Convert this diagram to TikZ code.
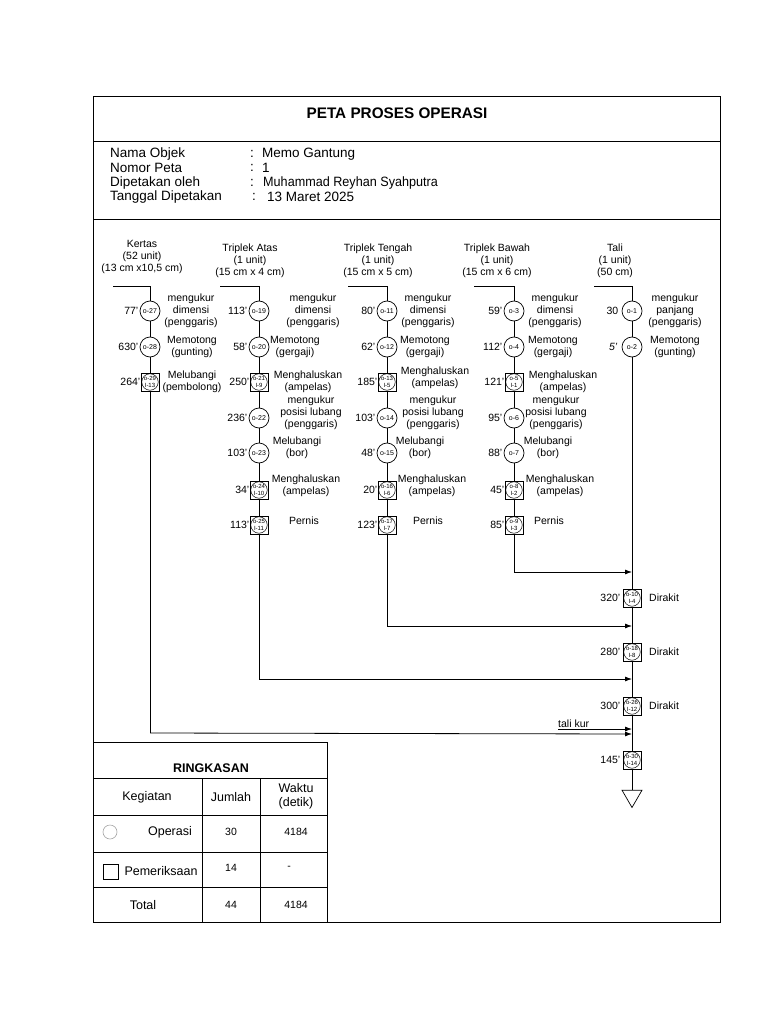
\documentclass[tikz,border=0pt]{standalone}
\usepackage{fontspec}
\setmainfont{Liberation Sans}
\newfontfamily\narrowfont[FakeStretch=0.935]{Liberation Sans}
\usetikzlibrary{arrows.meta,shapes.geometric}
\begin{document}
\begin{tikzpicture}[x=1pt,y=-1pt,
  frame/.style={line width=0.9pt},
  flow/.style={line width=0.8pt},
  arr/.style={flow,-{Latex[length=7pt,width=5pt]}},
  op/.style={circle,draw,line width=0.7pt,minimum size=20pt,inner sep=0pt,font=\fontsize{7}{7}\selectfont},
  comb/.style={rectangle,draw,line width=0.8pt,minimum size=18pt,inner sep=0pt},
  combc/.style={circle,draw,line width=0.5pt,minimum size=16.5pt,inner sep=0pt,align=center,font=\fontsize{6}{6.3}\selectfont},
  tm/.style={anchor=east,inner sep=0.5pt,font=\fontsize{10.5}{12}\selectfont},
  lbl/.style={align=center,inner sep=0pt,font=\fontsize{10.5}{12.2}\selectfont},
  hdr/.style={align=center,inner sep=0pt,font=\fontsize{10.5}{12}\selectfont},
  info/.style={anchor=west,inner sep=0pt,font=\fontsize{13.5}{15}\selectfont},
  tbl/.style={inner sep=0pt,align=center,font=\fontsize{12.5}{14}\selectfont},
  num/.style={inner sep=0pt,font=\fontsize{10.5}{12}\selectfont}
]
\useasboundingbox (0,0) rectangle (768,1024);
\fill[white] (0,0) rectangle (768,1024);

% frame
\draw[frame] (93,96) rectangle (720,922);
\draw[frame] (93,141) -- (720,141);
\draw[frame] (93,219) -- (720,219);
\node[font=\bfseries\fontsize{15.3}{17}\selectfont] (title) at (397,113) {PETA PROSES OPERASI};

% info
\node[info] (i1) at (110,154) {Nama Objek};
\node[info] (i2) at (110,168) {Nomor Peta};
\node[info] (i3) at (110,183) {Dipetakan oleh};
\node[info] (i4) at (110,197) {Tanggal Dipetakan};
\node[info] (c1) at (250,154) {:};
\node[info] (c2) at (250,168) {:};
\node[info] (c3) at (250,183) {:};
\node[info] (c4) at (252,197) {:};
\node[info] (v1) at (262,154) {Memo Gantung};
\node[info] (v2) at (262,168) {1};
\node[info] (v3) at (263,183) {\narrowfont Muhammad Reyhan Syahputra};
\node[info] (v4) at (267,197) {13 Maret 2025};

% ===== Kertas column (x=150)
\node[hdr] (hK) at (142,257) {Kertas\\(52 unit)\\(13 cm x10,5 cm)};
\coordinate (kL) at (113,286); \coordinate (kTop) at (150,286);
\node[op] (k1) at (150,311) {o-27};
\node[op] (k2) at (150,347) {o-28};
\node[comb] (k3) at (150,382) {}; \node[combc] (k3c) at (150,382) {o-29\\I-13};
\node[tm] (tk1) at (139,311) {77'};
\node[tm] (tk2) at (139,347) {630'};
\node[tm] (tk3) at (141,382) {264'};
\node[lbl] (lk1) at (191,311) {mengukur\\dimensi\\(penggaris)};
\node[lbl] (lk2) at (192,347) {Memotong\\(gunting)};
\node[lbl] (lk3) at (192,382) {Melubangi\\(pembolong)};
\coordinate (kEnd) at (150,733);

% ===== Triplek Atas (x=259)
\node[hdr] (hA) at (250,261) {Triplek Atas\\(1 unit)\\(15 cm x 4 cm)};
\coordinate (aL) at (220,286); \coordinate (aTop) at (259,286);
\node[op] (a1) at (259,311) {o-19};
\node[op] (a2) at (259,347) {o-20};
\node[comb] (a3) at (259,382) {}; \node[combc] (a3c) at (259,382) {o-21\\I-9};
\node[op] (a4) at (259,418) {o-22};
\node[op] (a5) at (259,453) {o-23};
\node[comb] (a6) at (259,490) {}; \node[combc] (a6c) at (259,490) {o-24\\I-10};
\node[comb] (a7) at (259,525) {}; \node[combc] (a7c) at (259,525) {o-25\\I-11};
\node[tm] (ta1) at (248,311) {113'};
\node[tm] (ta2) at (248,347) {58'};
\node[tm] (ta3) at (250,382) {250'};
\node[tm] (ta4) at (248,418) {236'};
\node[tm] (ta5) at (248,453) {103'};
\node[tm] (ta6) at (250,490) {34'};
\node[tm] (ta7) at (250,525) {113'};
\node[lbl] (la1) at (313,311) {mengukur\\dimensi\\(penggaris)};
\node[lbl] (la2) at (295,347) {Memotong\\(gergaji)};
\node[lbl] (la3) at (308,382) {Menghaluskan\\(ampelas)};
\node[lbl] (la4) at (311,413) {mengukur\\posisi lubang\\(penggaris)};
\node[lbl] (la5) at (297,448) {Melubangi\\(bor)};
\node[lbl] (la6) at (306,486) {Menghaluskan\\(ampelas)};
\node[lbl] (la7) at (304,521) {Pernis};
\coordinate (aEnd) at (259,679);

% ===== Triplek Tengah (x=387)
\node[hdr] (hT) at (378,261) {Triplek Tengah\\(1 unit)\\(15 cm x 5 cm)};
\coordinate (gL) at (348,286); \coordinate (gTop) at (387,286);
\node[op] (g1) at (387,311) {o-11};
\node[op] (g2) at (387,347) {o-12};
\node[comb] (g3) at (387,382) {}; \node[combc] (g3c) at (387,382) {o-13\\I-5};
\node[op] (g4) at (387,418) {o-14};
\node[op] (g5) at (387,453) {o-15};
\node[comb] (g6) at (387,490) {}; \node[combc] (g6c) at (387,490) {o-16\\I-6};
\node[comb] (g7) at (387,525) {}; \node[combc] (g7c) at (387,525) {o-17\\I-7};
\node[tm] (tg1) at (376,311) {80'};
\node[tm] (tg2) at (376,347) {62'};
\node[tm] (tg3) at (378,382) {185'};
\node[tm] (tg4) at (376,418) {103'};
\node[tm] (tg5) at (376,453) {48'};
\node[tm] (tg6) at (378,490) {20'};
\node[tm] (tg7) at (378,525) {123'};
\node[lbl] (lg1) at (428,311) {mengukur\\dimensi\\(penggaris)};
\node[lbl] (lg2) at (425,347) {Memotong\\(gergaji)};
\node[lbl] (lg3) at (435,378) {Menghaluskan\\(ampelas)};
\node[lbl] (lg4) at (433,413) {mengukur\\posisi lubang\\(penggaris)};
\node[lbl] (lg5) at (420,448) {Melubangi\\(bor)};
\node[lbl] (lg6) at (432,486) {Menghaluskan\\(ampelas)};
\node[lbl] (lg7) at (428,521) {Pernis};
\coordinate (gEnd) at (387,626);

% ===== Triplek Bawah (x=514)
\node[hdr] (hB) at (497,261) {Triplek Bawah\\(1 unit)\\(15 cm x 6 cm)};
\coordinate (bL) at (474,286); \coordinate (bTop) at (514,286);
\node[op] (b1) at (514,311) {o-3};
\node[op] (b2) at (514,347) {o-4};
\node[comb] (b3) at (514,382) {}; \node[combc] (b3c) at (514,382) {o-5\\I-1};
\node[op] (b4) at (514,418) {o-6};
\node[op] (b5) at (514,453) {o-7};
\node[comb] (b6) at (514,490) {}; \node[combc] (b6c) at (514,490) {o-8\\I-2};
\node[comb] (b7) at (514,525) {}; \node[combc] (b7c) at (514,525) {o-9\\I-3};
\node[tm] (tb1) at (503,311) {59'};
\node[tm] (tb2) at (503,347) {112'};
\node[tm] (tb3) at (505,382) {121'};
\node[tm] (tb4) at (503,418) {95'};
\node[tm] (tb5) at (503,453) {88'};
\node[tm] (tb6) at (505,490) {45'};
\node[tm] (tb7) at (505,525) {85'};
\node[lbl] (lb1) at (555,311) {mengukur\\dimensi\\(penggaris)};
\node[lbl] (lb2) at (553,347) {Memotong\\(gergaji)};
\node[lbl] (lb3) at (563,382) {Menghaluskan\\(ampelas)};
\node[lbl] (lb4) at (556,413) {mengukur\\posisi lubang\\(penggaris)};
\node[lbl] (lb5) at (548,448) {Melubangi\\(bor)};
\node[lbl] (lb6) at (560,486) {Menghaluskan\\(ampelas)};
\node[lbl] (lb7) at (549,521) {Pernis};
\coordinate (bEnd) at (514,572);

% ===== Tali (x=632)
\node[hdr] (hTl) at (615,261) {Tali\\(1 unit)\\(50 cm)};
\coordinate (tL) at (594,286); \coordinate (tTop) at (632,286);
\node[op] (t1) at (632,311) {o-1};
\node[op] (t2) at (632,347) {o-2};
\node[tm] (tt1) at (619,311) {30};
\node[tm] (tt2) at (618,347) {\itshape 5'};
\node[lbl] (lt1) at (675,311) {mengukur\\panjang\\(penggaris)};
\node[lbl] (lt2) at (675,347) {Memotong\\(gunting)};

% assembly
\node[comb] (s1) at (632,598) {}; \node[combc] (s1c) at (632,598) {o-10\\I-4};
\node[comb] (s2) at (632,652) {}; \node[combc] (s2c) at (632,652) {o-18\\I-8};
\node[comb] (s3) at (632,706) {}; \node[combc] (s3c) at (632,706) {o-26\\I-12};
\node[comb] (s4) at (632,760) {}; \node[combc] (s4c) at (632,760) {o-30\\I-14};
\node[tm] (ts1) at (621,598) {320'};
\node[tm] (ts2) at (621,652) {280'};
\node[tm] (ts3) at (621,706) {300'};
\node[tm] (ts4) at (621,760) {145'};
\node[lbl,anchor=west] (ls1) at (649,598) {Dirakit};
\node[lbl,anchor=west] (ls2) at (649,652) {Dirakit};
\node[lbl,anchor=west] (ls3) at (649,706) {Dirakit};
\node[regular polygon,regular polygon sides=3,shape border rotate=180,draw,line width=0.7pt,minimum size=23pt,inner sep=0pt] (store) at (632,796) {};

\coordinate (jB) at (632,572);
\coordinate (jG) at (632,626);
\coordinate (jA) at (632,679);
\coordinate (jK) at (632,734);
\node[lbl,anchor=south west] (tkl) at (558,728) {tali kur};
\coordinate (tkS) at (558,729);
\coordinate (jTk) at (632,729);

% lines
\draw[flow] (kL) -- (kTop) -- (k1) -- (k2) -- (k3) -- (kEnd);
\draw[flow] (aL) -- (aTop) -- (a1) -- (a2) -- (a3) -- (a4) -- (a5) -- (a6) -- (a7) -- (aEnd);
\draw[flow] (gL) -- (gTop) -- (g1) -- (g2) -- (g3) -- (g4) -- (g5) -- (g6) -- (g7) -- (gEnd);
\draw[flow] (bL) -- (bTop) -- (b1) -- (b2) -- (b3) -- (b4) -- (b5) -- (b6) -- (b7) -- (bEnd);
\draw[flow] (tL) -- (tTop) -- (t1) -- (t2) -- (s1) -- (s2) -- (s3) -- (s4) -- (store);
\draw[arr] (bEnd) -- (jB);
\draw[arr] (gEnd) -- (jG);
\draw[arr] (aEnd) -- (jA);
\draw[arr] (kEnd) -- (jK);
\draw[arr] (tkS) -- (jTk);

% summary table
\draw[frame] (93,742) -- (327,742) -- (327,922);
\draw[frame] (93,778) -- (327,778);
\draw[frame] (93,815) -- (327,815);
\draw[frame] (93,852) -- (327,852);
\draw[frame] (93,887) -- (327,887);
\draw[frame] (202,778) -- (202,922);
\draw[frame] (260,778) -- (260,922);
\node[font=\bfseries\fontsize{12.5}{14}\selectfont] (ring) at (211,768) {RINGKASAN};
\node[tbl] (hk) at (147,797) {Kegiatan};
\node[tbl] (hj) at (231,797) {Jumlah};
\node[tbl] (hw) at (296,796) {Waktu\\(detik)};
\node[circle,draw=gray!70,line width=0.6pt,minimum size=14pt,inner sep=0pt] (opsym) at (110,832) {};
\node[tbl] (ro) at (170,832) {Operasi};
\node[num] (ro2) at (231,832) {30};
\node[num] (ro3) at (296,832) {4184};
\node[rectangle,draw,line width=0.8pt,minimum size=15pt,inner sep=0pt] (insym) at (111,872) {};
\node[tbl] (rp) at (161,871) {Pemeriksaan};
\node[num] (rp2) at (231,868) {14};
\node[num] (rp3) at (289,868) {-};
\node[tbl] (rt) at (143,905) {Total};
\node[num] (rt2) at (231,905) {44};
\node[num] (rt3) at (296,905) {4184};
\end{tikzpicture}
\end{document}
